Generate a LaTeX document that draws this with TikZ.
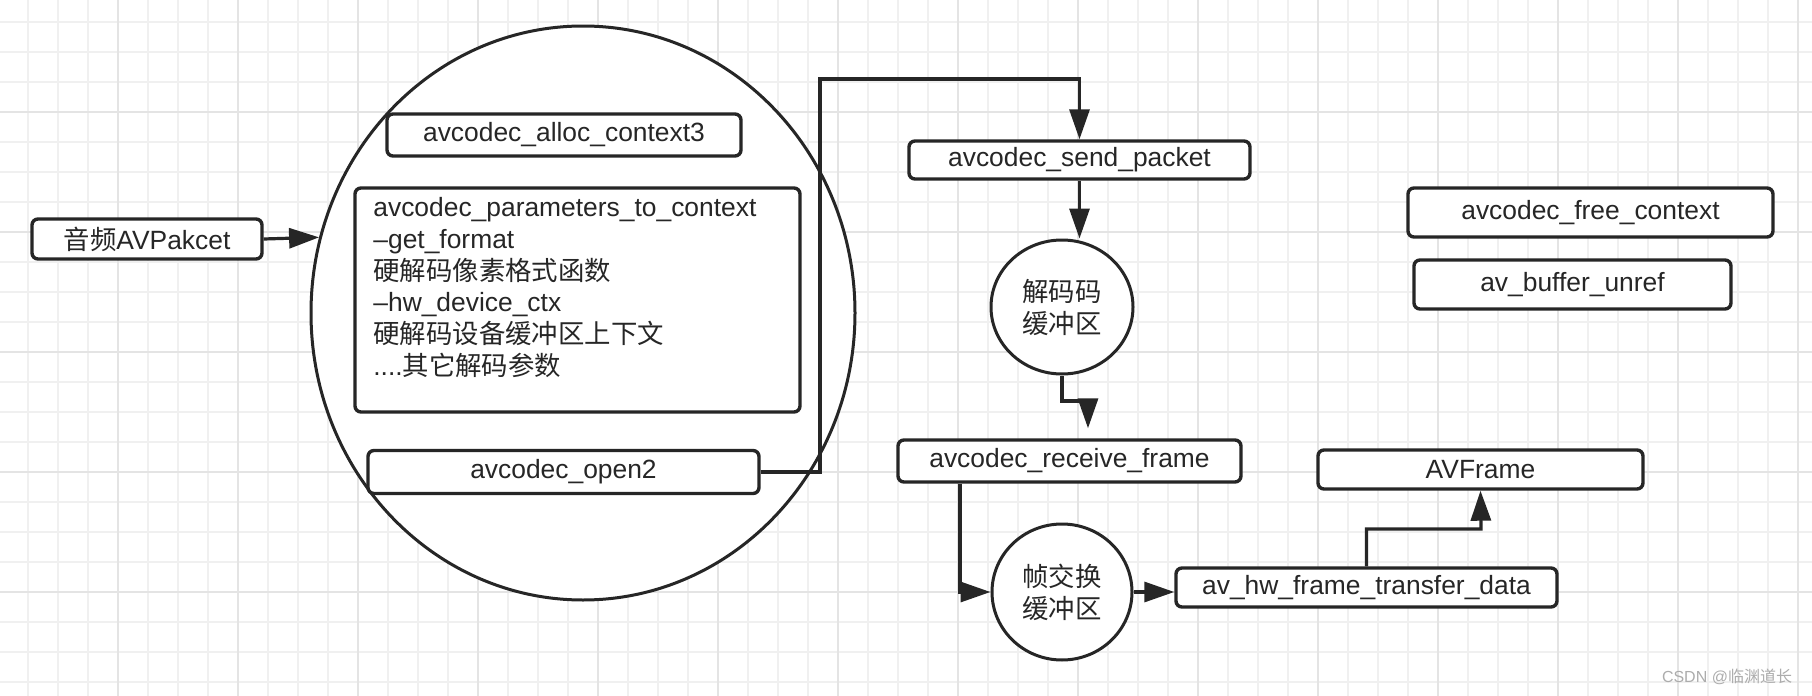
\documentclass[tikz,border=0pt]{standalone}
\usepackage{fontspec}
\setmainfont{Liberation Sans}
\newfontfamily\cjk{Noto Sans CJK SC}
\usetikzlibrary{arrows.meta,shapes.geometric}
\definecolor{ink}{HTML}{262626}
\definecolor{gridminor}{HTML}{F0F0F0}
\definecolor{gridmajor}{HTML}{E4E4E4}
\begin{document}
\begin{tikzpicture}[x=0.5pt,y=-0.5pt,
  minorline/.style={draw=gridminor,line width=0.6pt},
  majorline/.style={draw=gridmajor,line width=1.1pt},
  box/.style={draw=ink,fill=white,line width=1.7pt,rounded corners=3pt,inner sep=0pt,
    font=\fontsize{13.2}{16}\selectfont,text=ink},
  ell/.style={draw=ink,fill=white,ellipse,line width=1.5pt,inner sep=0pt,
    font=\fontsize{13.2}{16}\selectfont,text=ink,align=center},
  arr/.style={draw=ink,line width=1.6pt,-{Triangle[length=15pt,width=10pt]}}]
\useasboundingbox (0,0) rectangle (1812,696);
\fill[white] (0,0) rectangle (1812,696);
% grid
\foreach \x in {28,58,...,1812} \draw[minorline] (\x,0) -- (\x,696);
\foreach \y in {22,52,...,696} \draw[minorline] (0,\y) -- (1812,\y);
\foreach \x in {118,238,...,1812} \draw[majorline] (\x,0) -- (\x,696);
\foreach \y in {112,232,...,696} \draw[majorline] (0,\y) -- (1812,\y);

% big ellipse
\node[ell,minimum width=272pt,minimum height=287pt] (big) at (583,313) {};

% boxes
\node[box,minimum width=115pt,minimum height=20pt] (pkt) at (147,239) {{\cjk 音频}AVPakcet};
\node[box,minimum width=177pt,minimum height=21pt] (alloc) at (564,135) {avcodec\_alloc\_context3};
\node[box,minimum width=222.5pt,minimum height=112pt] (params) at (577.5,300) {};
\node[anchor=north west,inner sep=0pt,align=left,text=ink,
  font=\fontsize{13.2}{15.9}\selectfont] (ptext) at (373,197)
  {avcodec\_parameters\_to\_context\\
   –get\_format\\
   {\cjk 硬解码像素格式函数}\\
   –hw\_device\_ctx\\
   {\cjk 硬解码设备缓冲区上下文}\\
   ....{\cjk 其它解码参数}};
\node[box,minimum width=195.5pt,minimum height=21.5pt] (open2) at (563.5,472) {avcodec\_open2};

\node[box,minimum width=170.5pt,minimum height=19pt] (sp) at (1079.5,160) {avcodec\_send\_packet};
\node[ell,minimum width=71pt,minimum height=67pt] (c1) at (1062,307) {\cjk 解码码\\\cjk 缓冲区};
\node[box,minimum width=171.5pt,minimum height=21pt] (rf) at (1069.5,461) {\raisebox{-1.5pt}{avcodec\_receive\_frame}};
\node[ell,minimum width=70pt,minimum height=68pt] (c2) at (1062,592) {\cjk 帧交换\\\cjk 缓冲区};
\node[box,minimum width=190.5pt,minimum height=19.5pt] (tf) at (1366.5,587.5) {av\_hw\_frame\_transfer\_data};
\node[box,minimum width=162.5pt,minimum height=19.5pt] (avf) at (1480.5,469.5) {AVFrame};
\node[box,minimum width=182.5pt,minimum height=24.5pt] (free) at (1590.5,212.5) {avcodec\_free\_context};
\node[box,minimum width=158.5pt,minimum height=24.5pt] (unref) at (1572.5,284.5) {av\_buffer\_unref};

\node[text=gray!65,font=\fontsize{8}{9}\selectfont] (wm) at (1727,677) {CSDN @{\cjk 临渊道长}};

% junction coordinates
\coordinate (j1) at (820,79);
\coordinate (j2) at (1088,401);
\coordinate (j3) at (960,592);
\coordinate (j4) at (1481,529);

% connectors
\draw[arr] (pkt.east) -- (big.164.3);
\draw[arr] (open2.east) -| (j1) -| (sp.north);
\draw[arr] (sp.south) -- (sp.south |- c1.north);
\draw[arr,shorten >=5pt] (c1.south) |- (j2) -- (j2 |- rf.north);
\draw[arr] (j3 |- rf.south) |- (c2.west);
\draw[arr] (c2.east) -- (c2.east -| tf.west);
\draw[arr] (tf.north) |- (j4) -- (avf.south);
\end{tikzpicture}
\end{document}
